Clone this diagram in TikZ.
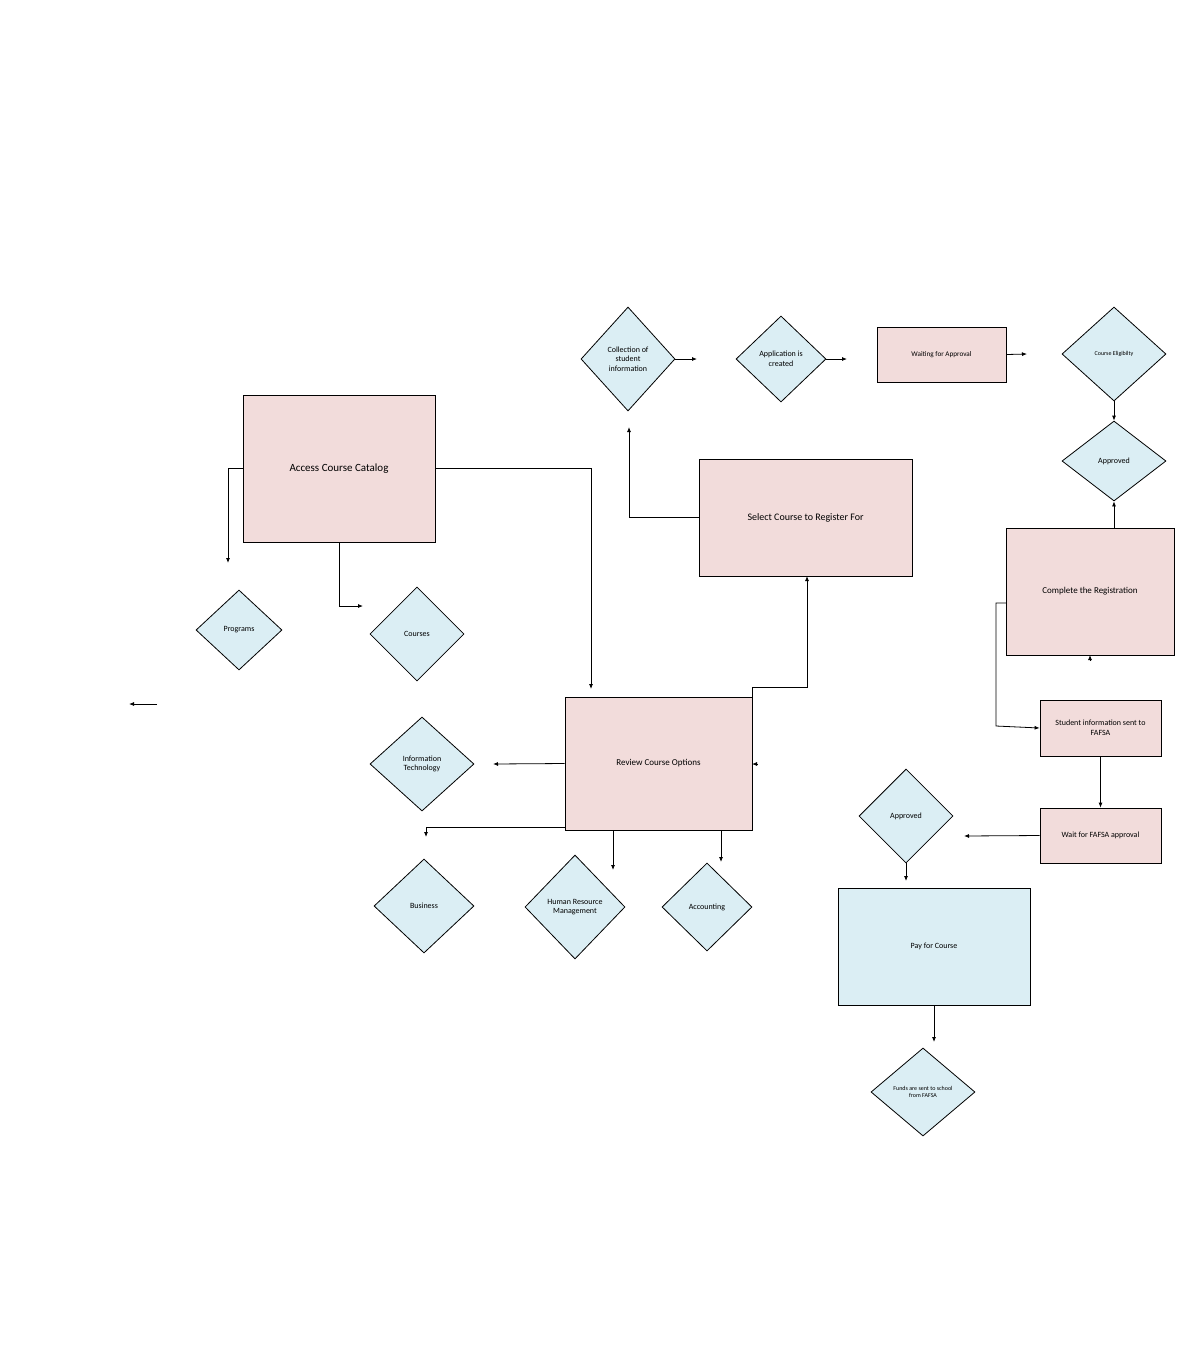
\documentclass[tikz,border=0pt]{standalone}
\usepackage{fontspec}
\setmainfont{Carlito}
\usetikzlibrary{shapes.geometric,arrows.meta}
\definecolor{pinkf}{HTML}{F2DCDB}
\definecolor{bluef}{HTML}{DBEEF4}
\begin{document}
\begin{tikzpicture}[x=0.5pt,y=-0.5pt,
 box/.style={draw,fill=pinkf,inner sep=0pt,align=center,font=\fontsize{4.5}{5.5}\selectfont},
 dia/.style={draw,fill=bluef,diamond,inner sep=0pt,align=center,font=\fontsize{4}{4.8}\selectfont},
 arr/.style={-{Latex[length=2.5pt,width=2pt]},line width=0.4pt}]
\useasboundingbox (0,0) rectangle (1200,1367);
\tikzset{R/.style args={#1,#2}{minimum width=#1*0.5pt,minimum height=#2*0.5pt},
 D/.style args={#1,#2}{minimum width=#1*1pt,minimum height=#2*1pt}}
\node[box,R={192,147},font=\fontsize{5.5}{6.5}\selectfont] (acc) at (339,468.5) {Access Course Catalog};
\node[box,R={213,117},font=\fontsize{5}{6}\selectfont] (sel) at (805.5,517.5) {Select Course to Register For};
\node[box,R={187,133}] (rev) at (658.5,763.5) {Review Course Options};
\node[box,R={129,55},font=\fontsize{3.6}{4.4}\selectfont] (wait) at (941.5,354.5) {Waiting for Approval};
\node[box,R={168,127}] (comp) at (1090,591.5) {Complete the Registration};
\node[box,R={121,56},font=\fontsize{4}{4.8}\selectfont] (stu) at (1100.5,728) {Student information sent to\\FAFSA};
\node[box,R={121,55},font=\fontsize{4}{4.8}\selectfont] (wf) at (1100.5,835.5) {Wait for FAFSA approval};
\node[box,fill=bluef,R={192,117},font=\fontsize{4}{4.8}\selectfont] (pay) at (934,946.5) {Pay for Course};
\node[dia,D={47,52}] (col) at (628,359) {Collection of\\student\\information};
\node[dia,D={45,43}] (app) at (781,359) {Application is\\created};
\node[dia,D={52,47},font=\fontsize{3}{3.6}\selectfont] (elig) at (1114,354) {Course Eligibilty};
\node[dia,D={52,40}] (ap1) at (1114,461) {Approved};
\node[dia,D={43,40}] (prog) at (239,630) {Programs};
\node[dia,D={47,47}] (crs) at (417,634) {Courses};
\node[dia,D={52,47}] (it) at (422,764) {Information\\Technology};
\node[dia,D={50,47}] (bus) at (424,906) {Business};
\node[dia,D={50,52}] (hrm) at (575,907) {Human Resource\\Management};
\node[dia,D={45,44}] (acct) at (707,907) {Accounting};
\node[dia,D={47,47}] (ap2) at (906,816) {Approved};
\node[dia,D={52,44},font=\fontsize{3}{3.6}\selectfont] (fund) at (923,1092) {Funds are sent to school\\from FAFSA};
\coordinate (c1) at (228,563); \coordinate (c2) at (363,606); \coordinate (c3) at (591,689);
\coordinate (c4) at (129,704); \coordinate (c4s) at (157,704);
\coordinate (c5) at (629,427); \coordinate (c6) at (697,359); \coordinate (c7) at (847,359);
\coordinate (c8) at (1027,354); \coordinate (c9) at (964,836); \coordinate (c10) at (906,881);
\coordinate (c11) at (934,1042); \coordinate (c12) at (493,764); \coordinate (c13) at (426,837);
\coordinate (c14) at (613,870); \coordinate (c15) at (721,862);
\draw[arr] (acc.west) -- (228,468.5) -- (c1);
\draw[arr] (acc.south) -- (339,606) -- (c2);
\draw[arr] (acc.east) -- (591,468.5) -- (c3);
\draw[arr] (c4s) -- (c4);
\draw[arr] (sel.west) -- (629,517.5) -- (c5);
\draw[arr] (col.east) -- (c6);
\draw[arr] (app.east) -- (c7);
\draw[arr] (wait.east) -- (c8);
\draw[arr] (elig.south) -- (ap1.north);
\draw[arr,{Latex[length=2.5pt,width=2pt]}-] (ap1.south) -- (1114,528);
\draw[arr] (1090,661) -- (1090,655);
\draw[arr] (1006,603) -- (996,603) -- (996,726) -- (stu.west);
\draw[arr] (stu.south) -- (wf.north);
\draw[arr] (wf.west) -- (c9);
\draw[arr] (ap2.south) -- (c10);
\draw[arr] (pay.south) -- (c11);
\draw[arr] (752,697) -- (752,687) -- (807,687) -- (807,576);
\draw[arr] (758,764) -- (752,764);
\draw[arr] (rev.west) -- (c12);
\draw[arr] (565,827) -- (426,827) -- (c13);
\draw[arr] (613,830) -- (c14);
\draw[arr] (721,830) -- (c15);
\end{tikzpicture}
\end{document}
